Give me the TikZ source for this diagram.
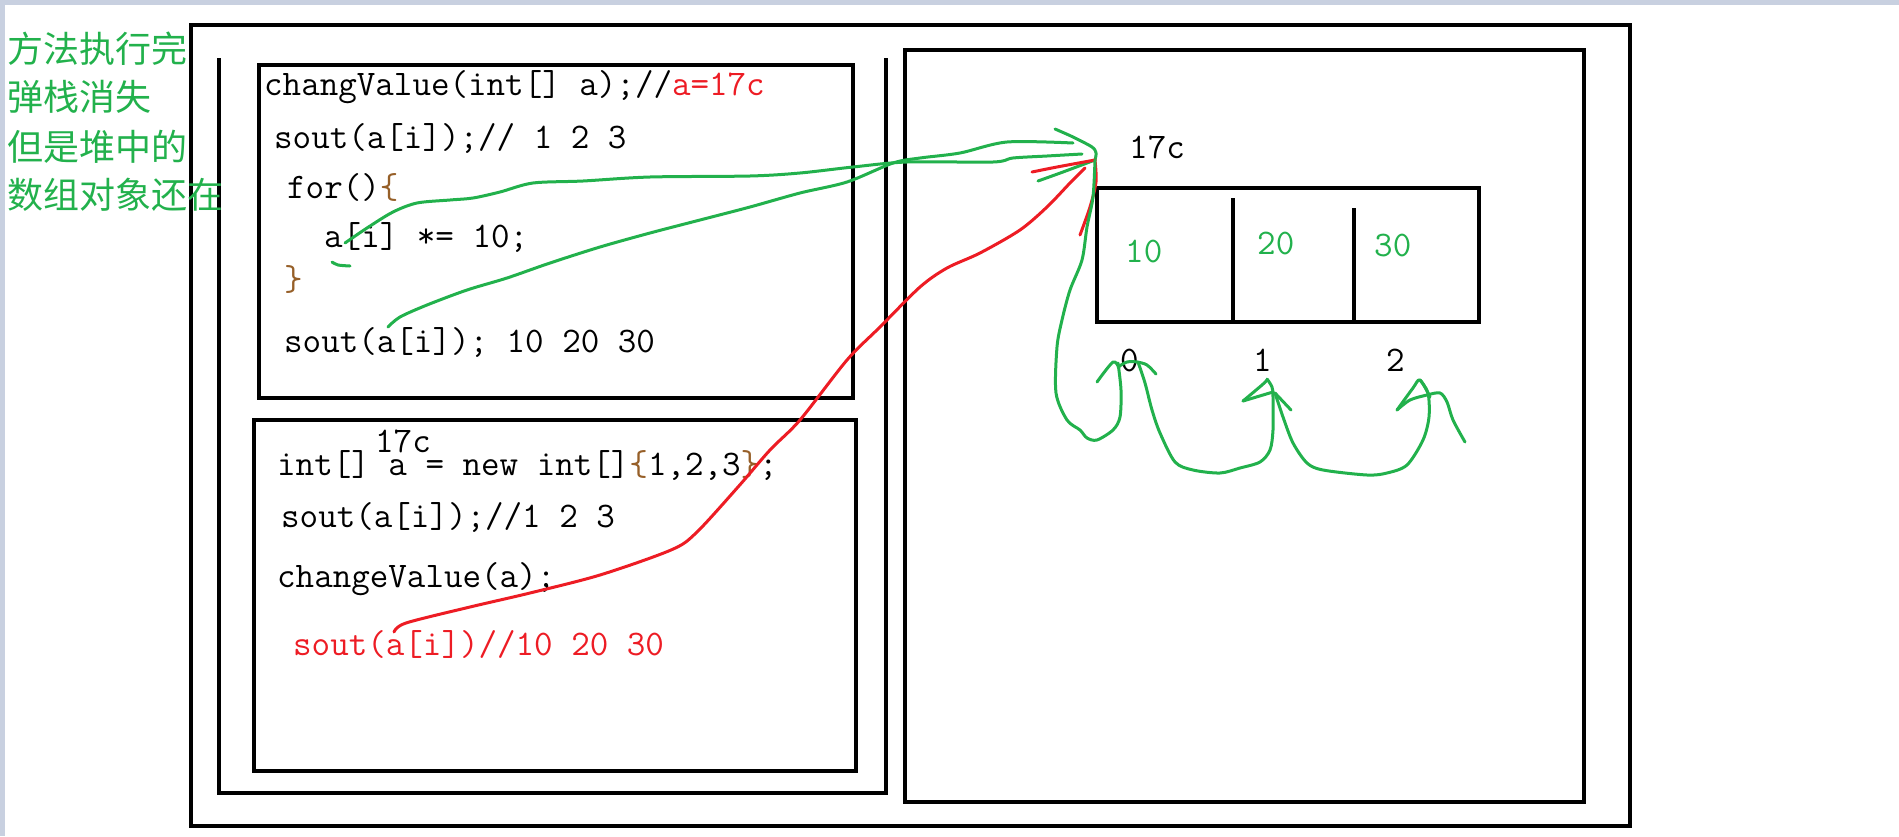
\documentclass[tikz,border=0pt]{standalone}
\usepackage{fontspec}
\newfontfamily\cjk{Noto Sans CJK SC}
\usetikzlibrary{positioning}
\definecolor{penGreen}{RGB}{34,177,76}
\definecolor{penRed}{RGB}{237,28,36}
\definecolor{braceCol}{RGB}{150,95,40}
\definecolor{bandCol}{RGB}{200,208,224}
\newcommand{\codesize}{\fontsize{36}{40}\selectfont}
\newcommand{\br}[1]{\textcolor{braceCol}{#1}}
\tikzset{
  framebox/.style={draw,line width=4.5pt},
  codeline/.style={anchor=base west,inner sep=0pt,font=\ttfamily\codesize},
  notetxt/.style={anchor=west,inner sep=0pt,font=\cjk\codesize,text=penGreen},
  greenpen/.style={draw=penGreen,line width=3pt,line cap=round,line join=round},
  redpen/.style={draw=penRed,line width=3pt,line cap=round,line join=round},
}

\begin{document}
\begin{tikzpicture}[x=1pt,y=-1pt]
    \useasboundingbox (0,0) rectangle (1899,836);
    % --- window band ---
    \fill[bandCol] (0,0) rectangle (1899,5);
    \fill[bandCol] (0,0) rectangle (5,836);
    % --- memory frames ---
    \draw[framebox] (191,25) rectangle (1630,826);
    \draw[framebox] (219,58) -- (219,793) -- (886,793) -- (886,58);
    \draw[framebox] (259,65) rectangle (853,398);
    \draw[framebox] (254,420) rectangle (856,771);
    \draw[framebox] (905,50) rectangle (1584,802);
    % --- changeValue frame ---
    \node[codeline] (m1) at (264,95) {changValue(int[] a);//\textcolor{penRed}{a=17c}};
    \node[codeline] (m2) at (274,148) {sout(a[i]);// 1 2 3};
    \node[codeline] (m3) at (287,198) {for()\br{\{}};
    \node[codeline] (m4) at (324,247) {a[i] *= 10;};
    \node[codeline] (m5) at (284,290) {\br{\}}};
    \node[codeline] (m6) at (284,352) {sout(a[i]); 10 20 30};
    % --- main frame ---
    \node[codeline] (s1) at (277,475) {int[] a = new int[]\br{\{}1,2,3\br{\}};};
    \node[codeline] (addr) at (375,452) {17c};
    \node[codeline] (s2) at (281,527) {sout(a[i]);//1 2 3};
    \node[codeline] (s3) at (277,587) {changeValue(a);};
    \node[codeline,text=penRed] (s4) at (293,655) {sout(a[i])//10 20 30};
    % --- heap array ---
    \node[codeline] (hAddr) at (1129,158) {17c};
    \draw[framebox] (1097,188) rectangle (1479,322);
    \draw[framebox] (1233,198) -- (1233,322);
    \draw[framebox] (1354,208) -- (1354,322);
    \node[codeline,text=penGreen] (v0) at (1125,262) {10};
    \node[codeline,text=penGreen] (v1) at (1257,254) {20};
    \node[codeline,text=penGreen] (v2) at (1374,256) {30};
    \node[codeline] (i0) at (1120,371) {0};
    \node[codeline] (i1) at (1253,371) {1};
    \node[codeline] (i2) at (1386,371) {2};
    % --- note ---
    \node[notetxt] (n1) at (7,48.5) {方法执行完};
    \node[notetxt] (n2) at (7,96.5) {弹栈消失};
    \node[notetxt] (n3) at (7,146.5) {但是堆中的};
    \node[notetxt] (n4) at (7,195) {数组对象还在};
    % --- pen strokes ---
    \coordinate (tip) at (1095,160);
    \coordinate (aLoop) at (345,243);
    \coordinate (aOut) at (388,327);
    \coordinate (aMain) at (394,632);
    \draw[greenpen] plot[smooth,tension=0.5] coordinates {(aLoop) (367,228) (393,212) (417,203) (450,200) (473,198) (500,192) (533,183) (583,181) (650,177) (750,176) (800,173) (853,167) (907,162) (993,162) (1013,158) (1047,156) (1082,154)};
    \draw[greenpen] plot[smooth,tension=0.5] coordinates {(aOut) (400,317) (427,305) (467,290) (507,278) (550,263) (600,247) (650,233) (700,220) (750,207) (800,193) (847,182) (893,163) (920,158) (960,153) (1007,142) (1073,143)};
    \draw[greenpen] plot[smooth,tension=0.5] coordinates {(1055,129) (1073,137) (1092,147) (1096,153) (tip)};
    \draw[greenpen] plot[smooth,tension=0.5] coordinates {(1038,181) (1063,172) (tip)};
    \draw[greenpen] plot[smooth,tension=0.5] coordinates {(332,262) (338,265) (350,266)};
    \draw[redpen] plot[smooth,tension=0.5] coordinates {(aMain) (406,623) (470,607) (530,593) (600,575) (671,550) (696,533) (738,487) (770,450) (800,420) (847,360) (880,327) (920,287) (947,268) (980,253) (1020,230) (1047,207) (1070,183) (1085,168)};
    \draw[redpen] plot[smooth,tension=0.5] coordinates {(1032,172) (1057,167) (tip)};
    \draw[redpen] plot[smooth,tension=0.5] coordinates {(tip) (1096,182) (1090,207) (1080,235)};
    % --- index walk ---
    \draw[greenpen] plot[smooth,tension=0.5] coordinates {(tip) (1093,197) (1087,227) (1082,260) (1070,290) (1062,320) (1057,347) (1056,393) (1067,420) (1080,430) (1087,438) (1097,440) (1113,430) (1120,417) (1121,390) (1118,363)};
    \draw[greenpen] plot[smooth,tension=0.5] coordinates {(1097,382) (1113,362) (1119,368)};
    \draw[greenpen] plot[smooth,tension=0.5] coordinates {(1118,367) (1127,362) (1137,362) (1147,365) (1156,374)};
    \draw[greenpen] plot[smooth,tension=0.5] coordinates {(1138,362) (1145,383) (1152,410) (1160,433) (1175,462) (1193,470) (1220,473) (1240,468) (1260,462) (1270,450) (1273,430) (1273,397) (1272,387) (1267,379)};
    \draw[greenpen] plot[smooth,tension=0.5] coordinates {(1243,401) (1262,385) (1267,380)};
    \draw[greenpen] (1243,401) -- (1273,392);
    \draw[greenpen] (1275,393) -- (1291,410);
    \draw[greenpen] plot[smooth,tension=0.5] coordinates {(1275,393) (1283,417) (1293,443) (1307,463) (1323,470) (1367,475) (1387,473) (1407,465) (1423,440) (1429,417) (1428,393) (1420,380)};
    \draw[greenpen] plot[smooth,tension=0.5] coordinates {(1397,410) (1413,388) (1420,380) (1430,397)};
    \draw[greenpen] plot[smooth,tension=0.5] coordinates {(1397,410) (1410,400) (1427,395) (1440,393) (1447,402) (1453,420) (1465,442)};
\end{tikzpicture}
\end{document}
